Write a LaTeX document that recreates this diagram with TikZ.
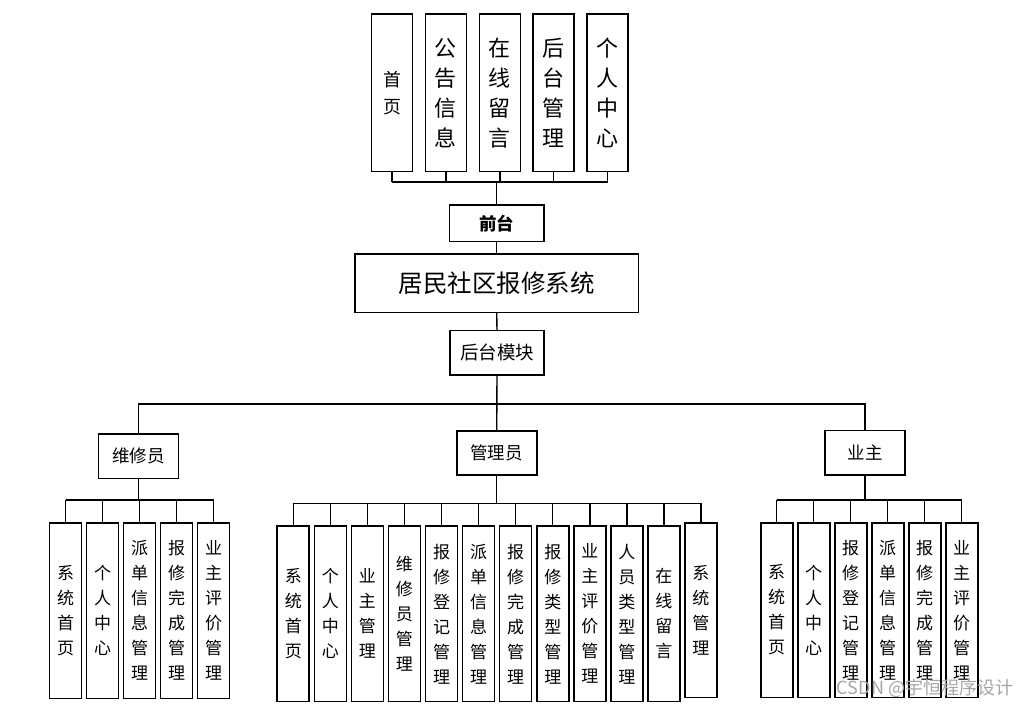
\documentclass[tikz,border=0pt]{standalone}
\usepackage{fontspec}
\setmainfont{Noto Sans CJK SC}
\usetikzlibrary{positioning}
\newcommand{\setfs}[2]{\fontsize{#1}{#2}\selectfont}
\tikzset{
	box/.style={draw, line width=1.6pt, inner sep=0pt, align=center},
	topbox/.style={box, minimum width=41pt, minimum height=157.7pt, font=\setfs{22}{30}},
	rolebox/.style={box, minimum width=80pt, minimum height=44.3pt, font=\setfs{17.5}{20}},
	leaf/.style={box, minimum width=32pt, minimum height=175.6pt, font=\setfs{17}{25}},
	link/.style={line width=1.4pt}
}
\begin{document}
\begin{tikzpicture}[x=1pt, y=-1pt]
	\useasboundingbox (0,0) rectangle (1036,707);
	% front pages
	\node[topbox, font=\setfs{18}{27}] (fp1) at (392,92.8) {首\\页};
	\foreach \t [count=\i from 2] in {{公\\告\\信\\息},{在\\线\\留\\言},{后\\台\\管\\理},{个\\人\\中\\心}}
		\node[topbox] (fp\i) at ({392+53.9*(\i-1)},92.8) {\t};
	\foreach \i in {1,...,5}
		\draw[link] (fp\i.south) -- (fp\i.south |- 0,182);
	\draw[link] (fp1.south |- 0,182) -- (fp5.south |- 0,182);
	
	\node[box, minimum width=94.7pt, minimum height=36.7pt, font=\setfs{17.5}{20}\bfseries] (qt) at (496.7,223.3) {前台};
	\node[box, minimum width=283.3pt, minimum height=58.3pt, font=\setfs{24.5}{28}] (sys) at (496.7,283.2) {居民社区报修系统};
	\node[box, minimum width=94pt, minimum height=44.3pt, font=\setfs{18.5}{20}] (ht) at (497,352.8) {后台模块};
	\draw[link] (qt.north) -- (qt.north |- 0,182);
	\draw[link] (qt.south) -- (sys.north);
	\draw[link] (sys.south) -- (ht.north);
	
	% roles
	\node[rolebox] (wxy) at (138.3,456.2) {维修员};
	\node[rolebox] (gly) at (496.7,453) {管理员};
	\node[rolebox] (yz) at (865,452.8) {业主};
	\draw[link] (wxy.north) |- (yz.north |- 0,404) -- (yz.north);
	\draw[link] (ht.south) -- (gly.north);
	
	% 维修员
	\foreach \t [count=\i] in {{系\\统\\首\\页},{个\\人\\中\\心},{派\\单\\信\\息\\管\\理},{报\\修\\完\\成\\管\\理},{业\\主\\评\\价\\管\\理}}
		\node[leaf] (w\i) at ({28.5+37*\i},610.5) {\t};
	\foreach \i in {1,...,5}
		\draw[link] (w\i.north) -- (w\i.north |- 0,500);
	\draw[link] (w1.north |- 0,500) -- (w5.north |- 0,500);
	\draw[link] (wxy.south) -- (wxy.south |- 0,500);
	
	% 管理员
	\foreach \t [count=\i] in {{系\\统\\首\\页},{个\\人\\中\\心},{业\\主\\管\\理},{维\\修\\员\\管\\理},{报\\修\\登\\记\\管\\理},{派\\单\\信\\息\\管\\理},{报\\修\\完\\成\\管\\理},{报\\修\\类\\型\\管\\理},{业\\主\\评\\价\\管\\理},{人\\员\\类\\型\\管\\理},{在\\线\\留\\言}}
		\node[leaf] (g\i) at ({256.2+37.07*\i},613.8) {\t};
	\node[leaf, minimum height=174.6pt] (g12) at (700.8,610) {系\\统\\管\\理};
	\foreach \i in {1,...,12}
		\draw[link] (g\i.north) -- (g\i.north |- 0,503.3);
	\draw[link] (g1.north |- 0,503.3) -- (g12.north |- 0,503.3);
	\draw[link] (gly.south) -- (gly.south |- 0,503.3);
	
	% 业主
	\foreach \t [count=\i] in {{系\\统\\首\\页},{个\\人\\中\\心},{报\\修\\登\\记\\管\\理},{派\\单\\信\\息\\管\\理},{报\\修\\完\\成\\管\\理},{业\\主\\评\\价\\管\\理}}
		\node[leaf, minimum height=174.6pt] (y\i) at ({739.7+37*\i},610) {\t};
	\foreach \i in {1,...,6}
		\draw[link] (y\i.north) -- (y\i.north |- 0,500);
	\draw[link] (y1.north |- 0,500) -- (y6.north |- 0,500);
	\draw[link] (yz.south) -- (yz.south |- 0,500);
	
	\node[text=gray!70, font=\setfs{18}{20}] (wm) at (925,688) {CSDN @宇恒程序设计};
\end{tikzpicture}
\end{document}
